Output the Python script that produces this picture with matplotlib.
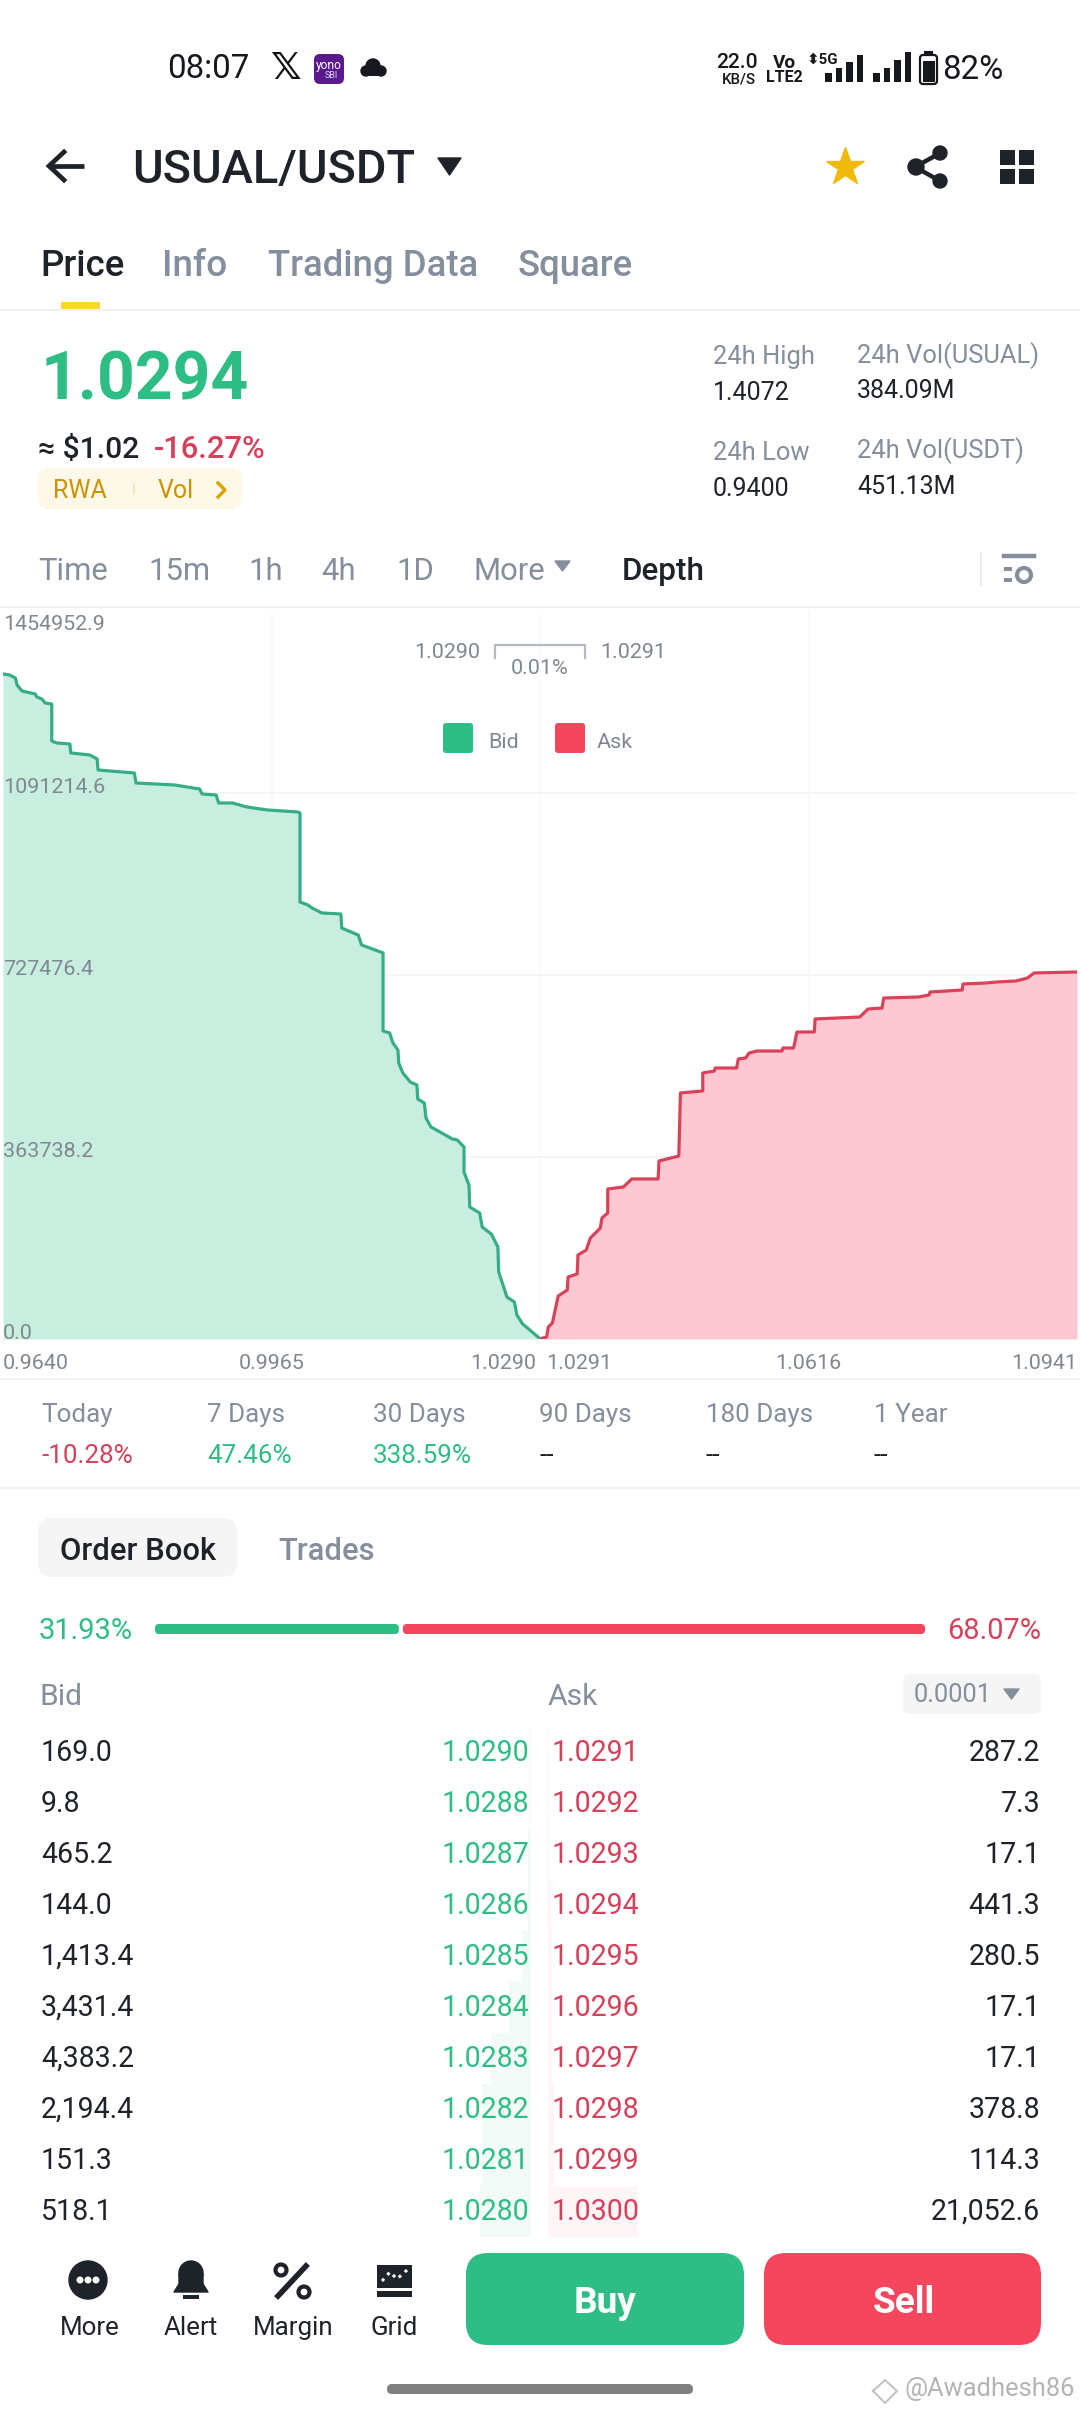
import numpy as np
import matplotlib
matplotlib.use("Agg")
import matplotlib.pyplot as plt
from matplotlib.patches import FancyBboxPatch, Polygon, Circle, Rectangle
from matplotlib.transforms import ScaledTranslation

plt.rcParams['font.family'] = ['Roboto', 'DejaVu Sans']

# depth curve (price, cumulative size in thousands)
bid_price = [0.9640, 0.9648, 0.9655, 0.9657, 0.9663, 0.9679, 0.9681, 0.9687, 0.9691, 0.9699, 0.9699,
             0.9705, 0.9721, 0.9722, 0.9745, 0.9754, 0.9755, 0.9799, 0.9801, 0.9848, 0.9878, 0.9881,
             0.9898, 0.9901, 0.9918, 0.9935, 0.9960, 0.9997, 0.99995, 0.99995, 1.0009, 1.0014, 1.0026,
             1.0049, 1.0050, 1.0070, 1.0074, 1.0084, 1.0100, 1.0100, 1.0108, 1.0112, 1.0118, 1.0119,
             1.0124, 1.0133, 1.0141, 1.0142, 1.0150, 1.0152, 1.0158, 1.0169, 1.0184, 1.0190, 1.0198,
             1.0198, 1.0204, 1.0205, 1.0217, 1.0220, 1.0231, 1.0239, 1.0240, 1.0250, 1.0259, 1.0262,
             1.0269, 1.0282, 1.0290]
bid_depth = [1329.1, 1327.1, 1321.1, 1307.1, 1295.1, 1289.1, 1283.1, 1279.1, 1271.1, 1269.1, 1195.2,
             1191.2, 1189.2, 1171.2, 1167.2, 1159.2, 1137.2, 1131.2, 1111.2, 1107.2, 1099.2, 1089.2,
             1087.2, 1071.2, 1071.2, 1063.3, 1057.3, 1053.3, 1051.3, 873.4, 867.4, 861.4, 851.4,
             849.4, 821.4, 807.4, 787.4, 781.5, 771.5, 615.6, 611.6, 591.6, 577.6, 551.6,
             531.6, 513.6, 507.6, 479.7, 471.7, 441.7, 423.7, 413.7, 399.7, 397.7, 383.7,
             333.8, 307.8, 263.8, 251.8, 223.8, 209.9, 183.9, 133.9, 83.9, 73.9, 48.0,
             30.0, 12.0, 0.5]
ask_price = [1.0291, 1.0299, 1.0301, 1.0306, 1.0313, 1.0324, 1.0325, 1.0336, 1.0337, 1.0347, 1.0352,
             1.0364, 1.0366, 1.0373, 1.0373, 1.0392, 1.0402, 1.0434, 1.0435, 1.0459, 1.0461, 1.0488,
             1.0488, 1.0502, 1.0503, 1.0529, 1.0531, 1.0540, 1.0544, 1.0554, 1.0584, 1.0585, 1.0598,
             1.0602, 1.0623, 1.0624, 1.0678, 1.0688, 1.0705, 1.0707, 1.0749, 1.0762, 1.0763, 1.0802,
             1.0803, 1.0831, 1.0844, 1.0867, 1.0881, 1.0889, 1.0941]
ask_depth = [0.5, 4.0, 24.0, 32.0, 85.9, 97.9, 123.9, 129.9, 167.9, 177.9, 201.9,
             221.8, 241.8, 251.8, 299.8, 303.8, 319.8, 319.8, 355.8, 365.7, 491.7, 495.7,
             531.6, 535.6, 541.6, 541.6, 559.6, 561.6, 571.6, 575.6, 575.6, 581.6, 581.6,
             613.6, 613.6, 639.6, 643.5, 659.5, 661.5, 681.5, 683.5, 687.5, 693.5, 697.5,
             709.5, 711.5, 713.5, 715.5, 721.5, 731.5, 733.5]

depth_ticks = [0.0, 363738.2, 727476.4, 1091214.6, 1454952.9]
left_ticks = [0.9640, 0.9965, 1.0290]
right_ticks = [1.0291, 1.0616, 1.0941]

period_names = ['Today', '7 Days', '30 Days', '90 Days', '180 Days', '1 Year']
period_values = ['-10.28%', '47.46%', '338.59%', '--', '--', '--']

bid_share = 31.93
ask_share = 68.07

book_bid_qty = [169.0, 9.8, 465.2, 144.0, 1413.4, 3431.4, 4383.2, 2194.4, 151.3, 518.1]
book_bid_price = [1.0290, 1.0288, 1.0287, 1.0286, 1.0285, 1.0284, 1.0283, 1.0282, 1.0281, 1.0280]
book_ask_price = [1.0291, 1.0292, 1.0293, 1.0294, 1.0295, 1.0296, 1.0297, 1.0298, 1.0299, 1.0300]
book_ask_qty = [287.2, 7.3, 17.1, 441.3, 280.5, 17.1, 17.1, 378.8, 114.3, 21052.6]

GREEN = '#2EBD85'
RED = '#F6465D'
TXT_RED = '#D6405A'
DARK = '#1E2329'
GRAY = '#848E9C'
LBL = '#7F8790'

W, H = 1080, 2412
fig = plt.figure(figsize=(W / 100, H / 100), dpi=100, facecolor='white')


def make_depth_ax(x0, x1):
    a = fig.add_axes([x0 / W, 1 - 1339 / H, (x1 - x0) / W, 728 / H])
    a.patch.set_visible(False)
    a.set_ylim(0, depth_ticks[-1])
    for s in a.spines.values():
        s.set_visible(False)
    a.tick_params(length=0, labelsize=21.5 * 0.72, labelcolor=LBL)
    a.set_yticks(depth_ticks)
    # grid drawn by hand so it stays under the fill and the labels stay on top
    for v in depth_ticks[1:-1]:
        a.axhline(v, color='#F3F4F4', linewidth=1.2, zorder=0.5)
    return a


def nudge(label, dx=0, dy=0):
    # shift a tick label by screen pixels
    label.set_transform(label.get_transform() + ScaledTranslation(dx / 100, dy / 100, fig.dpi_scale_trans))


ax_bid = make_depth_ax(3, 540)
ax_bid.set_xlim(left_ticks[0], left_ticks[-1])
ax_bid.axvline(left_ticks[1], color='#F8F8F8', linewidth=1.2, zorder=0.5)
ax_bid.axvline(left_ticks[2], color='#F8F8F8', linewidth=1.2, zorder=0.5)
ax_bid.fill_between(bid_price, np.array(bid_depth) * 1000, color='#C8EEDF', linewidth=0)
ax_bid.plot(bid_price, np.array(bid_depth) * 1000, color='#37AD85', linewidth=2.3)
ax_bid.set_xticks(left_ticks, ['%.4f' % v for v in left_ticks])
ax_bid.set_yticklabels(['%.1f' % v for v in depth_ticks], ha='left', va='bottom')
ax_bid.get_yticklabels()[-1].set_va('top')
ax_bid.tick_params(axis='y', pad=0)
ax_bid.tick_params(axis='x', pad=11)
for lab in ax_bid.get_yticklabels():
    nudge(lab, dy=-4)
xl = ax_bid.get_xticklabels()
xl[0].set_ha('left')
xl[2].set_ha('right')
nudge(xl[2], dx=-4)

ax_ask = make_depth_ax(540, 1077)
ax_ask.set_xlim(right_ticks[0], right_ticks[-1])
ax_ask.axvline(right_ticks[1], color='#F8F8F8', linewidth=1.2, zorder=0.5)
ax_ask.fill_between(ask_price, np.array(ask_depth) * 1000, color='#FDC8D1', linewidth=0)
ax_ask.plot(ask_price, np.array(ask_depth) * 1000, color='#D9435A', linewidth=2.3)
ax_ask.set_xticks(right_ticks, ['%.4f' % v for v in right_ticks])
ax_ask.set_yticklabels([])
ax_ask.tick_params(axis='x', pad=11)
xl = ax_ask.get_xticklabels()
xl[0].set_ha('left')
xl[2].set_ha('right')
nudge(xl[0], dx=6)

# everything else is laid out in screen pixels
ui = fig.add_axes([0, 0, 1, 1], zorder=5)
ui.set_xlim(0, W)
ui.set_ylim(H, 0)
ui.axis('off')
ui.patch.set_visible(False)


def txt(x, y, s, size, color=DARK, weight='normal', ha='left', **kw):
    # +2: va=center sits a bit high compared to the app's text
    return ui.text(x, y + 2, s, fontsize=size * 0.72, color=color, fontweight=weight, ha=ha, va='center', **kw)


def rbox(x0, y0, x1, y1, r, color, **kw):
    p = FancyBboxPatch((x0, y0), x1 - x0, y1 - y0, boxstyle='round,pad=0,rounding_size=%g' % r,
                       facecolor=color, edgecolor='none', **kw)
    ui.add_patch(p)
    return p


def tri(x0, x1, y0, y1, color):
    ui.add_patch(Polygon([(x0, y0), (x1, y0), ((x0 + x1) / 2, y1)], closed=True, facecolor=color,
                         edgecolor=color, linewidth=1, joinstyle='round'))


def hline(y, x0=0, x1=W, color='#EEF0F2', lw=1.3):
    ui.plot([x0, x1], [y, y], color=color, linewidth=lw, solid_capstyle='butt')


# status bar
txt(167, 67, '08:07', 33, color='#15181C')
txt(285, 67, '𝕏', 38, color='#111111', ha='center', family=['DejaVu Sans'], weight='bold')
rbox(314, 54, 344, 84, 6, '#5A1A8E')
txt(329, 63, 'yono', 12, color='white', ha='center')
txt(331, 73, 'SBI', 9, color='#DDDDFF', ha='center')
ui.add_patch(Circle((373, 66), 7, color='#16191D'))
ui.add_patch(Circle((366, 71), 5, color='#16191D'))
ui.add_patch(Circle((381, 71), 5, color='#16191D'))
ui.add_patch(Rectangle((366, 67), 15, 9, color='#16191D', linewidth=0))
txt(737, 61, '22.0', 21, color='#15181C', ha='center', weight='medium')
txt(739, 77, 'KB/S', 15, color='#15181C', ha='center', weight='medium')
txt(784, 61, 'Vo', 19, color='#15181C', ha='center', weight='bold')
txt(784, 76, 'LTE2', 16, color='#15181C', ha='center', weight='bold')
txt(823, 58, '⬍5G', 15, color='#15181C', ha='center', weight='bold', family=['Roboto', 'DejaVu Sans'])
for gx, hs in [(825, (9, 14, 20, 27)), (873, (9, 14, 22, 30))]:
    for i, h in enumerate(hs):
        ui.add_patch(Rectangle((gx + i * 10.5, 82 - h), 6.5, h, color='#15181C', linewidth=0))
ui.add_patch(FancyBboxPatch((920, 55), 17, 29, boxstyle='round,pad=0,rounding_size=3', facecolor='white',
                            edgecolor='#15181C', linewidth=1.6))
ui.add_patch(Rectangle((922.5, 61), 12, 21, color='#15181C', linewidth=0))
ui.add_patch(Rectangle((924, 51), 9, 2.5, color='#15181C', linewidth=0))
txt(942, 68, '82%', 33, color='#15181C')

# header
ui.plot([49, 84], [166, 166], color=DARK, linewidth=3.4, solid_capstyle='butt')
ui.plot([64, 49, 64], [152, 166, 180], color=DARK, linewidth=3.4, solid_joinstyle='miter')
txt(132, 168, 'USUAL/USDT', 47, weight='medium', color=DARK)
tri(438, 461, 158, 175, DARK)
ui.plot(845, 167, marker='*', markersize=29, color='#F0B90B', markeredgecolor='#F0B90B')
ui.plot([915, 942], [167, 152], color=DARK, linewidth=3.2)
ui.plot([915, 942], [167, 182], color=DARK, linewidth=3.2)
for cx, cy, r in [(916, 167, 8), (940, 153, 7), (940, 181, 7)]:
    ui.add_patch(Circle((cx, cy), r, color=DARK))
for sx, sy in [(1000, 150), (1019, 150), (1000, 169), (1019, 169)]:
    ui.add_patch(Rectangle((sx, sy), 15, 15, color=DARK, linewidth=0))

# tabs
txt(40, 265, 'Price', 36.5, weight='medium', color=DARK)
txt(162, 265, 'Info', 37, weight='medium', color=GRAY)
txt(268, 265, 'Trading Data', 36.5, weight='medium', color=GRAY)
txt(518, 265, 'Square', 36.5, weight='medium', color=GRAY)
ui.add_patch(Rectangle((61, 302), 39, 7, color='#FCD535', linewidth=0))
hline(310)

# price block
txt(41, 380, '1.0294', 66, color=GREEN, weight='bold')
txt(38, 448, '≈ $1.02', 30, weight='medium', color=DARK)
txt(154, 448, '-16.27%', 31, weight='medium', color=TXT_RED)
rbox(38, 468, 242, 509, 11, '#FDF8E7')
txt(53, 489, 'RWA', 25, color='#C99400')
ui.plot([134, 134], [484, 494], color='#EFE3B8', linewidth=1.2)
txt(158, 489, 'Vol', 25, color='#C99400')
ui.plot([218, 225, 218], [483, 490, 497], color='#D9A300', linewidth=2.4)
txt(713, 355, '24h High', 25.5, color=GRAY)
txt(713, 391, '1.4072', 25, color=DARK)
txt(857, 354, '24h Vol(USUAL)', 25.5, color=GRAY)
txt(857, 389, '384.09M', 25, color=DARK)
txt(713, 451, '24h Low', 25.5, color=GRAY)
txt(713, 487, '0.9400', 25, color=DARK)
txt(857, 449, '24h Vol(USDT)', 25.5, color=GRAY)
txt(857, 485, '451.13M', 25, color=DARK)

# interval row
for x, s in [(38, 'Time'), (148, '15m'), (248, '1h'), (321, '4h'), (396, '1D'), (474, 'More')]:
    txt(x, 569, s, 31, color=GRAY)
tri(555, 570, 561, 571, GRAY)
txt(622, 569, 'Depth', 31.5, weight='medium', color=DARK)
ui.plot([981, 981], [553, 585], color='#E6E8EA', linewidth=1.3)
ui.plot([1004, 1034], [556, 556], color=GRAY, linewidth=3.2)
ui.add_patch(Rectangle((1004, 567), 8, 4, color=GRAY, linewidth=0))
ui.add_patch(Rectangle((1004, 578), 8, 4, color=GRAY, linewidth=0))
ui.add_patch(Circle((1024, 575), 7, facecolor='white', edgecolor=GRAY, linewidth=3))
hline(607)

# spread bracket and legend over the chart
txt(414, 651, '1.0290', 21.5, color=LBL)
txt(600, 651, '1.0291', 21.5, color=LBL)
ui.plot([495, 495, 585, 585], [658, 645, 645, 658], color='#B4BAC0', linewidth=1.6)
txt(540, 666, '0.01%', 21.5, color=LBL, ha='center')
rbox(443, 723, 473, 753, 3, GREEN)
txt(488, 740, 'Bid', 21.5, color=LBL)
rbox(555, 723, 585, 753, 3, RED)
txt(597, 740, 'Ask', 21.5, color=LBL)

# period change
hline(1379)
period_x = [41, 207, 373, 539, 706, 874]
for x, name, val in zip(period_x, period_names, period_values):
    txt(x, 1413, name, 26, color=GRAY)
    col = DARK if val == '--' else (TXT_RED if val.startswith('-') else GREEN)
    txt(x, 1454, val, 26, color=col)
hline(1488)

# order book
rbox(38, 1518, 237, 1577, 14, '#F5F5F5')
txt(60, 1550, 'Order Book', 31, weight='medium')
txt(278, 1550, 'Trades', 31, weight='medium', color=GRAY)
txt(39, 1629, '%.2f%%' % bid_share, 29, color=GREEN)
txt(1041, 1629, '%.2f%%' % ask_share, 29, color=TXT_RED, ha='right')
bar_x0, bar_x1 = 155, 925
bar_w = bar_x1 - bar_x0
bid_w = bar_w * bid_share / 100
rbox(bar_x0, 1624, bar_x0 + bid_w - 2, 1634, 4, GREEN)
rbox(bar_x0 + bid_w + 2, 1624, bar_x1, 1634, 4, RED)
txt(39, 1695, 'Bid', 30, color=GRAY)
txt(548, 1695, 'Ask', 30, color=GRAY)
rbox(903, 1674, 1041, 1714, 7, '#F5F5F5')
txt(914, 1693, '0.0001', 25.5, color=GRAY)
tri(1004, 1019, 1689, 1699, GRAY)

row_y = 1752 + 51 * np.arange(len(book_bid_qty))
px_per_qty = 90 / np.sum(book_ask_qty)
bid_cum = np.cumsum(book_bid_qty)
ask_cum = np.cumsum(book_ask_qty)
ui.barh(row_y, -bid_cum * px_per_qty, left=531, height=51, color='#F2FBF8', linewidth=0, zorder=0.5)
ui.barh(row_y, ask_cum * px_per_qty, left=548, height=51, color='#FEF5F6', linewidth=0, zorder=0.5)
for y, bq, bp, ap, aq in zip(row_y, book_bid_qty, book_bid_price, book_ask_price, book_ask_qty):
    txt(41, y - 1, '{:,.1f}'.format(bq), 28.5)
    txt(529, y - 1, '%.4f' % bp, 28.5, color=GREEN, ha='right')
    txt(552, y - 1, '%.4f' % ap, 28.5, color=TXT_RED)
    txt(1040, y - 1, '{:,.1f}'.format(aq), 28.5, ha='right')

# bottom bar
ui.add_patch(Circle((88, 2280), 19, color=DARK))
for dx in (-8, 0, 8):
    ui.add_patch(Circle((88 + dx, 2280), 2.8, color='white'))
ui.add_patch(Polygon([(174, 2292), (208, 2292), (203, 2284), (203, 2274), (191, 2262), (179, 2274), (179, 2284)],
                     closed=True, color=DARK, joinstyle='round'))
ui.add_patch(Circle((191, 2273), 12, color=DARK))
ui.add_patch(Rectangle((183, 2295), 16, 4, color=DARK, linewidth=0))
ui.plot([278, 306], [2296, 2266], color=DARK, linewidth=4)
ui.add_patch(Circle((281, 2270), 5.5, facecolor='white', edgecolor=DARK, linewidth=3))
ui.add_patch(Circle((304, 2292), 5.5, facecolor='white', edgecolor=DARK, linewidth=3))
ui.add_patch(Rectangle((377, 2265), 35, 23, color=DARK, linewidth=0))
ui.plot([382, 390, 397, 407], [2281, 2272, 2279, 2270], color='white', linewidth=2.2, linestyle=':')
ui.add_patch(Rectangle((377, 2291), 35, 6, color=DARK, linewidth=0))
for x, s in [(90, 'More'), (191, 'Alert'), (293, 'Margin'), (394, 'Grid')]:
    txt(x, 2326, s, 26, ha='center')
rbox(466, 2253, 744, 2345, 22, GREEN)
rbox(764, 2253, 1041, 2345, 22, RED)
txt(605, 2301, 'Buy', 37, color='white', weight='bold', ha='center')
txt(904, 2301, 'Sell', 37, color='white', weight='bold', ha='center')
rbox(387, 2384, 693, 2394, 5, '#808080')

# watermark
ui.plot([873, 885, 897, 885, 873], [2391, 2380, 2391, 2403, 2391], color='#C4C4C4', linewidth=1.5)
txt(905, 2387, '@Awadhesh86', 25.5, color='#B4B4B4')

fig.savefig('out.png', dpi=100)
